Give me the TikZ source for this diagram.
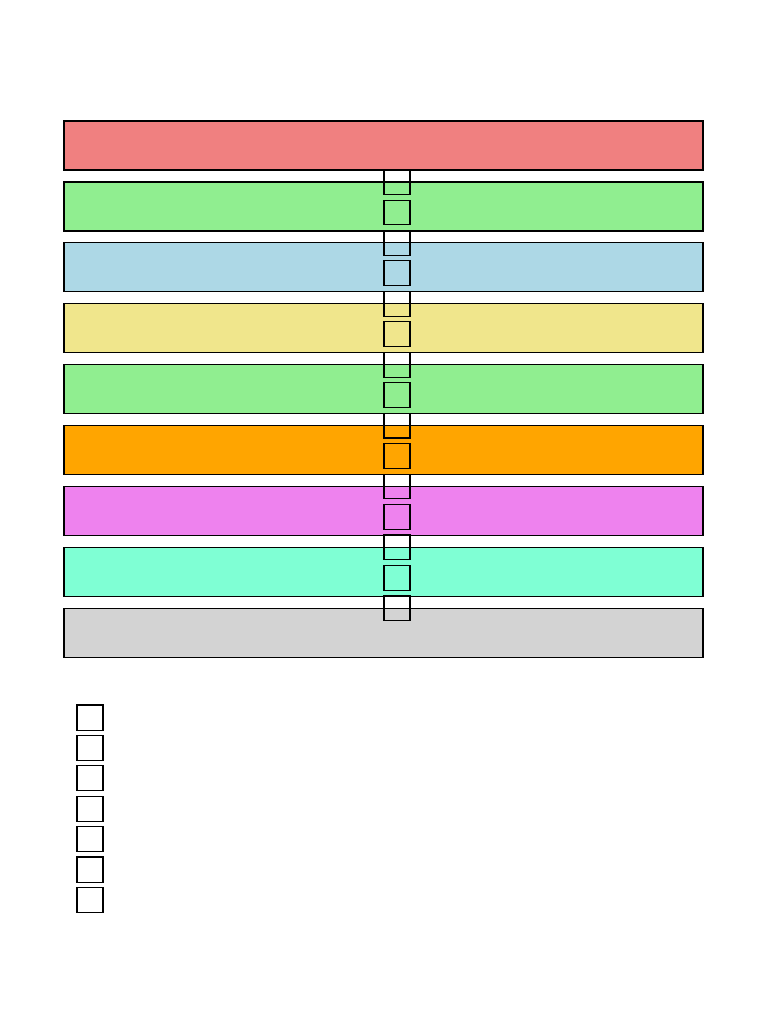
\documentclass[tikz,border=0pt]{standalone}
\usepackage{tikz}

\definecolor{barred}{RGB}{240,128,128}
\definecolor{bargreen}{RGB}{144,238,144}
\definecolor{barblue}{RGB}{173,216,230}
\definecolor{baryellow}{RGB}{240,230,140}
\definecolor{barorange}{RGB}{255,165,0}
\definecolor{barviolet}{RGB}{238,130,238}
\definecolor{baraqua}{RGB}{127,255,212}
\definecolor{bargray}{RGB}{211,211,211}

\begin{document}
\begin{tikzpicture}[x=0.75pt,y=-0.75pt,
		bar/.style={draw, line width=0.9pt, inner sep=0, minimum width=479.25pt, minimum height=36.75pt},
		tickbox/.style={draw, line width=0.8pt, inner sep=0, minimum width=19.5pt, minimum height=18.6pt},
		keybox/.style={draw, line width=0.8pt, inner sep=0, minimum width=19.5pt, minimum height=18.8pt}]
			\useasboundingbox (0,0) rectangle (768,1024);

			% bars
			\foreach \name/\col [count=\i from 0] in {red/barred, green/bargreen, blue/barblue, yellow/baryellow, greenb/bargreen, orange/barorange, violet/barviolet, aqua/baraqua, gray/bargray}
				\node[bar, fill=\col] (\name) at (383.5, 145.5+\i*60.9) {};

			% boxes along the middle
			\foreach \j in {0,...,14}
				\node[tickbox] (t\j) at (397, 182+\j*30.45) {};

			% key boxes
			\foreach \k in {0,...,6}
				\node[keybox] (k\k) at (90, 717.5+\k*30.4) {};
		\end{tikzpicture}
\end{document}
